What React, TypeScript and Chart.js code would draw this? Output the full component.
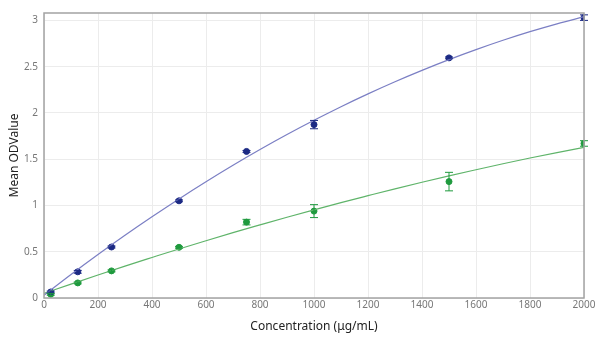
import React, { useEffect, useRef } from "react";
import { Chart, registerables } from "chart.js";

Chart.register(...registerables);

// Measured standards (concentration, µg/mL)
const concentrations = [25, 125, 250, 500, 750, 1000, 1500, 2000];
const blueMeans = [0.065, 0.283, 0.551, 1.05, 1.584, 1.874, 2.595, 3.03];
const blueErrors = [0.01, 0.015, 0.01, 0.01, 0.01, 0.045, 0.01, 0.03];
const greenMeans = [0.04, 0.163, 0.293, 0.548, 0.82, 0.939, 1.258, 1.67];
const greenErrors = [0.01, 0.01, 0.01, 0.01, 0.03, 0.07, 0.1, 0.03];

// Fitted curves
const curveX = [0, 100, 200, 300, 400, 500, 600, 700, 800, 900, 1000, 1100, 1200, 1300, 1400, 1500, 1600, 1700, 1800, 1900, 2000];
const blueCurve = [0.03, 0.254, 0.47, 0.678, 0.878, 1.071, 1.256, 1.434, 1.604, 1.766, 1.92, 2.067, 2.206, 2.337, 2.46, 2.576, 2.684, 2.785, 2.878, 2.963, 3.04];
const greenCurve = [0.05, 0.15, 0.249, 0.345, 0.438, 0.53, 0.619, 0.706, 0.79, 0.873, 0.953, 1.031, 1.106, 1.18, 1.251, 1.32, 1.386, 1.451, 1.513, 1.572, 1.628];

const yTicks = [0, 0.5, 1, 1.5, 2, 2.5, 3];

const BLUE_PT = "#1c2a84";
const BLUE_LINE = "#7b7fc4";
const GREEN_PT = "#1f9a3e";
const GREEN_LINE = "#5fb46a";

const errorBarPlugin = {
  id: "errorBars",
  afterDatasetsDraw(chart: any) {
    const ctx = chart.ctx;
    const xs = chart.scales.x;
    const ys = chart.scales.y;
    const sets = [
      { means: blueMeans, errs: blueErrors, color: BLUE_PT },
      { means: greenMeans, errs: greenErrors, color: GREEN_PT },
    ];
    ctx.save();
    sets.forEach((s) => {
      ctx.strokeStyle = s.color;
      ctx.lineWidth = 1;
      concentrations.forEach((c, i) => {
        const px = xs.getPixelForValue(c);
        const top = ys.getPixelForValue(s.means[i] + s.errs[i]);
        const bot = ys.getPixelForValue(s.means[i] - s.errs[i]);
        ctx.beginPath();
        ctx.moveTo(px, top);
        ctx.lineTo(px, bot);
        ctx.moveTo(px - 4, top);
        ctx.lineTo(px + 4, top);
        ctx.moveTo(px - 4, bot);
        ctx.lineTo(px + 4, bot);
        ctx.stroke();
      });
    });
    ctx.restore();
  },
};

const borderPlugin = {
  id: "plotBorder",
  afterDraw(chart: any) {
    const { left, right, top, bottom } = chart.chartArea;
    const ctx = chart.ctx;
    ctx.save();
    ctx.strokeStyle = "#a3a3a3";
    ctx.lineWidth = 1.5;
    ctx.strokeRect(left, top, right - left, bottom - top);
    ctx.restore();
  },
};

export default function App() {
  const ref = useRef<HTMLCanvasElement | null>(null);
  useEffect(() => {
    document.body.style.margin = "0";
    if (!ref.current) return;
    const chart = new Chart(ref.current, {
      type: "scatter",
      data: {
        datasets: [
          {
            type: "line",
            data: curveX.map((x, i) => ({ x, y: blueCurve[i] })),
            borderColor: BLUE_LINE,
            borderWidth: 1.2,
            pointRadius: 0,
            cubicInterpolationMode: "monotone",
          },
          {
            type: "line",
            data: curveX.map((x, i) => ({ x, y: greenCurve[i] })),
            borderColor: GREEN_LINE,
            borderWidth: 1.2,
            pointRadius: 0,
            cubicInterpolationMode: "monotone",
          },
          {
            data: concentrations.map((x, i) => ({ x, y: blueMeans[i] })),
            backgroundColor: BLUE_PT,
            borderColor: BLUE_PT,
            pointRadius: 3,
          },
          {
            data: concentrations.map((x, i) => ({ x, y: greenMeans[i] })),
            backgroundColor: GREEN_PT,
            borderColor: GREEN_PT,
            pointRadius: 3,
          },
        ] as any,
      },
      options: {
        animation: false,
        responsive: false,
        maintainAspectRatio: false,
        layout: { padding: { top: 13, right: 16, left: 7, bottom: 7 } },
        plugins: { legend: { display: false }, tooltip: { enabled: false } },
        scales: {
          x: {
            type: "linear",
            min: 0,
            max: 2000,
            ticks: {
              stepSize: 200,
              color: "#777",
              font: { family: "Noto Sans", size: 10 },
              padding: 1,
              maxRotation: 0,
              callback: (v: any) => String(v),
            },
            grid: { color: "#ececec", drawTicks: false },
            border: { display: false },
            title: {
              display: true,
              text: "Concentration (μg/mL)",
              color: "#222",
              font: { family: "Noto Sans", size: 12 },
              padding: { top: 4, bottom: 0 },
            },
            afterFit: (s: any) => {
              s.height = 36;
            },
          },
          y: {
            type: "linear",
            min: 0,
            max: 3.08,
            afterBuildTicks: (s: any) => {
              s.ticks = yTicks.map((v) => ({ value: v }));
            },
            ticks: {
              color: "#777",
              font: { family: "Noto Sans", size: 10 },
              padding: 6,
              callback: (v: any) => String(v),
            },
            grid: { color: "#ececec", drawTicks: false },
            border: { display: false },
            title: {
              display: true,
              text: "Mean ODValue",
              color: "#222",
              font: { family: "Noto Sans", size: 12 },
              padding: { top: 0, bottom: 4 },
            },
            afterFit: (s: any) => {
              s.width = 37;
            },
          },
        },
      } as any,
      plugins: [errorBarPlugin, borderPlugin],
    });
    return () => chart.destroy();
  }, []);
  return (
    <div style={{ width: 600, height: 341, background: "#fff" }}>
      <canvas ref={ref} width={600} height={341} style={{ display: "block" }} />
    </div>
  );
}
